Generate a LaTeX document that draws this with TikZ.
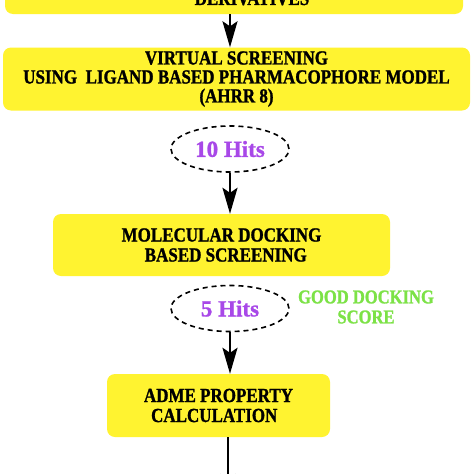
\documentclass[tikz,border=0pt]{standalone}
\usepackage{fontspec}
\setmainfont{Liberation Serif}
\newfontfamily\flowfont[FakeStretch=0.85,BoldFeatures={FakeBold=1.2}]{Liberation Serif}
\newfontfamily\hitfont[BoldFeatures={FakeBold=1.2}]{Liberation Serif}
\usetikzlibrary{arrows.meta,shapes.geometric,calc}
\definecolor{boxyellow}{RGB}{255,243,48}
\definecolor{hitpurple}{RGB}{168,72,232}
\definecolor{scoregreen}{RGB}{124,226,70}
\tikzset{
  stagebox/.style={fill=boxyellow,draw=none,rounded corners=8pt,inner sep=0pt,
    align=center,font=\flowfont\bfseries\fontsize{20}{20}\selectfont,text=black},
  hitoval/.style={ellipse,draw=black,dashed,dash pattern=on 5pt off 4pt,line width=1.6pt,
    inner sep=0pt,minimum width=118pt,minimum height=46pt,
    font=\hitfont\bfseries\fontsize{23}{24}\selectfont,text=hitpurple},
  flowarrow/.style={line width=2pt,-{Stealth[length=26pt,width=15pt,inset=5pt]}},
  note/.style={align=center,font=\flowfont\bfseries\fontsize{19.5}{20}\selectfont,text=scoregreen}
}
\begin{document}
\begin{tikzpicture}[x=1pt,y=-1pt]
\useasboundingbox (0,0) rectangle (474,474);
\clip (0,0) rectangle (474,474);
\fill[white] (0,0) rectangle (474,474);
\node[stagebox,minimum width=458pt,minimum height=74pt] (b1) at (234,-23) {};
\node[font=\flowfont\bfseries\fontsize{20}{20}\selectfont] (t1) at (252,-1.5) {DERIVATIVES};
\node[stagebox,minimum width=467pt,minimum height=63pt,font=\flowfont\bfseries\fontsize{20}{19}\selectfont] (b2) at (236.5,79)
  {VIRTUAL SCREENING\\USING\ \ LIGAND BASED PHARMACOPHORE MODEL\\(AHRR 8)};
\node[hitoval] (h10) at (230,149) {10 Hits};
\node[stagebox,minimum width=337pt,minimum height=62pt] (b3) at (221.5,245)
  {MOLECULAR DOCKING\\\ \ BASED SCREENING};
\node[hitoval] (h5) at (230,308.5) {5 Hits};
\node[note] (score) at (366,307) {GOOD DOCKING\\SCORE};
\node[stagebox,minimum width=223pt,minimum height=63pt] (b4) at (218.5,405.5)
  {ADME PROPERTY\\CALCULATION\ \ \ };
\coordinate (out) at (228,500);
\draw[flowarrow] (b1.south -| h10.south) -- (b2.north -| h10.south);
\draw[flowarrow] (h10.south) -- (h10.south |- b3.north);
\draw[flowarrow] (h5.south) -- (h5.south |- b4.north);
\draw[flowarrow] (b4.south -| out) -- (out);
\end{tikzpicture}
\end{document}
